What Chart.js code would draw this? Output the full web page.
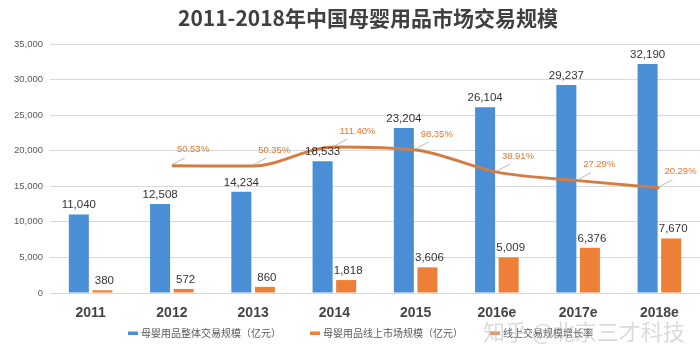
<!DOCTYPE html>
<html><head><meta charset="utf-8">
<script src="https://cdn.jsdelivr.net/npm/chart.js@4/dist/chart.umd.min.js"></script>
<style>html,body{margin:0;padding:0;background:#fff;}#wrap{width:700px;height:359px;position:relative;}</style>
</head><body><div id="wrap"><canvas id="c" width="700" height="359"></canvas></div>
<script>
const categories = ['2011','2012','2013','2014','2015','2016e','2017e','2018e'];
const totalMarket = [11040,12508,14234,18533,23204,26104,29237,32190];
const onlineMarket = [380,572,860,1818,3606,5009,6376,7670];
const onlineGrowth = [null,50.53,50.35,111.40,98.35,38.91,27.29,20.29];
const seriesNames = ['母婴用品整体交易规模（亿元）','母婴用品线上市场规模（亿元）','线上交易规模增长率'];
const yTicks = [0,5000,10000,15000,20000,25000,30000,35000];
const titleText = '2011-2018年中国母婴用品市场交易规模';
const watermarkText = '知乎 @北京三才科技';

const fmt = v => v.toLocaleString('en-US');
const FONT = "'Liberation Sans', Arial, sans-serif";
const CJK = "'Noto Sans CJK SC', sans-serif";

const decor = {
  id: 'decor',
  afterDatasetsDraw(chart) {
    const ctx = chart.ctx;
    ctx.save();
    [0,1].forEach(di => {
      const meta = chart.getDatasetMeta(di);
      meta.data.forEach((el, i) => {
        const v = chart.data.datasets[di].data[i];
        ctx.font = "11.5px " + FONT;
        ctx.fillStyle = '#333333';
        ctx.textAlign = 'center';
        ctx.textBaseline = 'alphabetic';
        ctx.fillText(fmt(v), el.x + (di === 1 ? 2 : 0), el.y - 6);
      });
    });
    const lm = chart.getDatasetMeta(2);
    lm.data.forEach((el, i) => {
      const v = chart.data.datasets[2].data[i];
      if (v == null) return;
      const lx = el.x + 5, ly = el.y - 16;
      ctx.strokeStyle = '#a8a8a8';
      ctx.lineWidth = 0.8;
      ctx.beginPath();
      ctx.moveTo(el.x, el.y - 1);
      ctx.lineTo(lx + 8, ly + 8);
      ctx.stroke();
      ctx.font = "9.5px " + FONT;
      ctx.fillStyle = '#e8772c';
      ctx.textAlign = 'left';
      ctx.textBaseline = 'middle';
      ctx.fillText(v.toFixed(2) + '%', lx, ly);
    });
    ctx.restore();
  },
  afterDraw(chart) {
    const ctx = chart.ctx;
    ctx.save();
    ctx.font = "bold 21px " + CJK;
    ctx.fillStyle = '#404040';
    ctx.textAlign = 'center';
    ctx.textBaseline = 'middle';
    ctx.fillText(titleText, 368, 18);
    const items = [
      {x:128, color:'#4a8fd6', name:seriesNames[0]},
      {x:310, color:'#ee7f36', name:seriesNames[1]},
      {x:490, color:'#e39a6a', name:seriesNames[2]}
    ];
    ctx.font = "10px " + CJK;
    ctx.textAlign = 'left';
    ctx.textBaseline = 'middle';
    items.forEach(it => {
      ctx.fillStyle = it.color;
      ctx.fillRect(it.x, 331.5, 10, 3.5);
      ctx.fillStyle = '#595959';
      ctx.fillText(it.name, it.x + 13, 333);
    });
    ctx.font = "22px " + CJK;
    ctx.fillStyle = 'rgba(175,175,175,0.45)';
    ctx.textBaseline = 'middle';
    ctx.fillText(watermarkText, 483, 332);
    ctx.restore();
  }
};

new Chart(document.getElementById('c'), {
  data: {
    labels: categories,
    datasets: [
      {type:'bar', label: seriesNames[0], data: totalMarket, backgroundColor:'#4a8fd6', yAxisID:'y', order:2,
       categoryPercentage:0.58, barPercentage:0.85},
      {type:'bar', label: seriesNames[1], data: onlineMarket, backgroundColor:'#ee7f36', yAxisID:'y', order:2,
       categoryPercentage:0.58, barPercentage:0.85},
      {type:'line', label: seriesNames[2], data: onlineGrowth, borderColor:'#d27d43', borderWidth:3,
       pointRadius:0, cubicInterpolationMode:'monotone', yAxisID:'y2', order:1, spanGaps:false}
    ]
  },
  options: {
    responsive:false, animation:false,
    layout:{padding:{top:44, bottom:36, left:0, right:0}},
    plugins:{legend:{display:false}, title:{display:false}, tooltip:{enabled:false}},
    scales:{
      x:{
        grid:{display:false, drawTicks:false},
        border:{display:true, color:'#d9d9d9'},
        ticks:{font:{family:"'Liberation Sans', Arial, sans-serif", size:14, weight:'bold'}, color:'#454545', padding:12},
        afterFit(s){ s.height = 30; }
      },
      y:{
        min:0, max:35000,
        afterBuildTicks(s){ s.ticks = yTicks.map(v => ({value:v})); },
        grid:{color:'#d9d9d9', drawTicks:false},
        border:{display:false},
        ticks:{font:{family:"'Liberation Sans', Arial, sans-serif", size:9.5}, color:'#595959', padding:7,
               callback:v => fmt(v)},
        afterFit(s){ s.width = 50; }
      },
      y2:{type:'logarithmic', display:false, min:0.25, max:8200}
    }
  },
  plugins:[decor]
});
</script></body></html>
